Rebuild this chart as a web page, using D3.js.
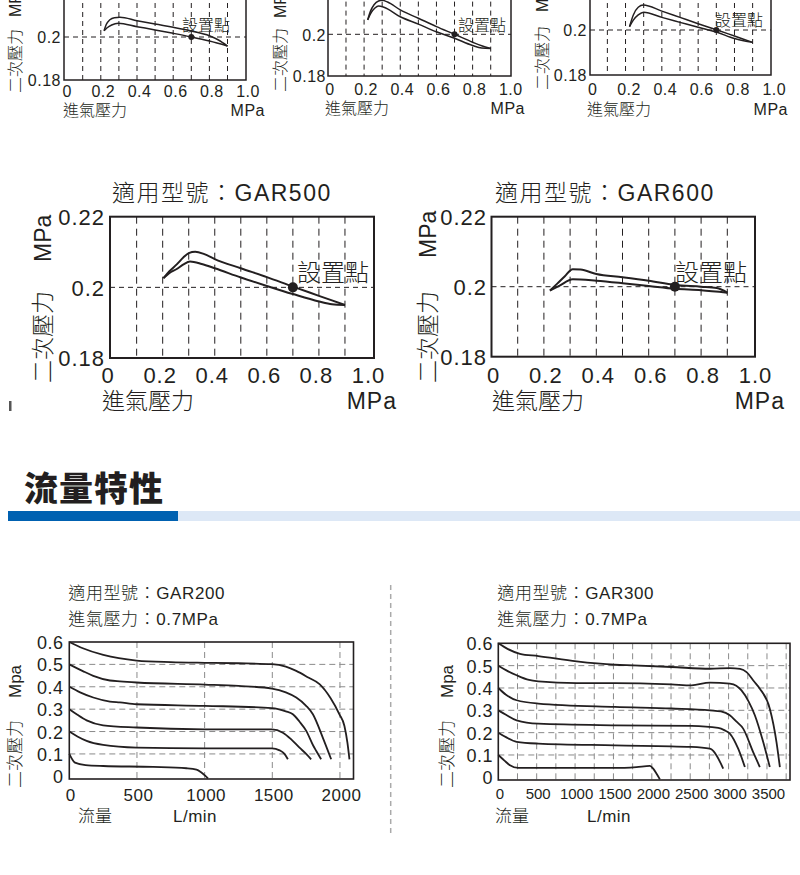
<!DOCTYPE html>
<html><head><meta charset="utf-8">
<script src="https://cdn.jsdelivr.net/npm/d3@7"></script>
<style>
html,body{margin:0;padding:0;background:#fff;}
svg{display:block;}
text{fill:#231f20;font-family:"Liberation Sans","Noto Sans CJK TC",sans-serif;font-weight:300;}
</style></head><body>
<svg id="c" width="800" height="875"></svg>
<script>
// ---------- data ----------
const pressureTicks = [0, 0.2, 0.4, 0.6, 0.8, 1.0];
const pressureTickLabels = ["0", "0.2", "0.4", "0.6", "0.8", "1.0"];
const pressureGrid = [0.1, 0.2, 0.3, 0.4, 0.5, 0.6, 0.7, 0.8, 0.9];
const secondaryTicksTop = [0.18, 0.2];
const secondaryTicksMid = [0.18, 0.2, 0.22];
const secondaryTickLabels = {0.18: "0.18", 0.2: "0.2", 0.22: "0.22"};
const setPoint = [0.7, 0.2];

const chartAUpper = [[0.218,0.2029],[0.23,0.2058],[0.25,0.2080],[0.275,0.2090],[0.306,0.2092],[0.4,0.2076],[0.5,0.2060],[0.6,0.2045],[0.7,0.2028],[0.8,0.2006],[0.85,0.1986],[0.9,0.1958]];
const chartALower = [[0.218,0.2029],[0.235,0.2043],[0.26,0.2056],[0.297,0.2064],[0.4,0.2048],[0.5,0.2033],[0.6,0.2017],[0.7,0.2000],[0.8,0.1981],[0.9,0.1958]];
const chartBUpper = [[0.22,0.2069],[0.235,0.2110],[0.255,0.2142],[0.28,0.2160],[0.3,0.2163],[0.33,0.2155],[0.4,0.2117],[0.5,0.2077],[0.6,0.2037],[0.7,0.2000],[0.8,0.1962],[0.85,0.1945],[0.9,0.1932]];
const chartBLower = [[0.22,0.2069],[0.24,0.2105],[0.26,0.2126],[0.28,0.2136],[0.31,0.2130],[0.4,0.2084],[0.5,0.2049],[0.6,0.2012],[0.7,0.1981],[0.8,0.1946],[0.85,0.1934],[0.9,0.1932]];
const chartCUpper = [[0.222,0.2015],[0.243,0.2067],[0.27,0.2101],[0.298,0.2111],[0.4,0.2084],[0.5,0.2056],[0.6,0.2028],[0.7,0.2001],[0.8,0.1973],[0.9,0.1945]];
const chartCLower = [[0.222,0.2015],[0.243,0.2044],[0.27,0.2067],[0.3,0.2079],[0.4,0.2056],[0.5,0.2034],[0.6,0.2012],[0.7,0.1991],[0.8,0.1962],[0.85,0.1952],[0.9,0.1945]];
const gar500Upper = [[0.203,0.2026],[0.225,0.2045],[0.254,0.2065],[0.28,0.2085],[0.3,0.2097],[0.325,0.2101],[0.36,0.2094],[0.4,0.2080],[0.5,0.2054],[0.6,0.2029],[0.7,0.2002],[0.8,0.1976],[0.9,0.1950]];
const gar500Lower = [[0.203,0.2026],[0.225,0.2040],[0.254,0.2052],[0.28,0.2065],[0.305,0.2073],[0.35,0.2066],[0.4,0.2054],[0.5,0.2028],[0.6,0.2004],[0.7,0.1981],[0.8,0.1960],[0.85,0.1952],[0.9,0.1950]];
const gar600Upper = [[0.223,0.1989],[0.25,0.2008],[0.28,0.2030],[0.31,0.2050],[0.34,0.2049],[0.4,0.2036],[0.5,0.2027],[0.6,0.2017],[0.7,0.2005],[0.8,0.2000],[0.86,0.1996],[0.9,0.1983]];
const gar600Lower = [[0.223,0.1989],[0.26,0.2003],[0.31,0.2021],[0.4,0.2017],[0.5,0.2010],[0.6,0.2002],[0.7,0.1994],[0.8,0.1990],[0.9,0.1983]];

const flowPressureTicks = [0, 0.1, 0.2, 0.3, 0.4, 0.5, 0.6];
const flowPressureLabels = ["0", "0.1", "0.2", "0.3", "0.4", "0.5", "0.6"];
const flowPressureGrid = [0.1, 0.2, 0.3, 0.4, 0.5];
const flowTicks200 = [0, 500, 1000, 1500, 2000];
const flowGrid200 = [500, 1000, 1500, 2000];
const flowTicks300 = [0, 500, 1000, 1500, 2000, 2500, 3000, 3500];
const flowGrid300 = [250, 500, 750, 1000, 1250, 1500, 1750, 2000, 2250, 2500, 2750, 3000, 3250, 3500, 3750];

const gar200Curve06 = [[0,0.6],[100,0.572],[251,0.542],[497,0.517],[750,0.510],[1001,0.507],[1250,0.505],[1497,0.501],[1600,0.490],[1677,0.471],[1770,0.440],[1849,0.412],[1930,0.350],[1996,0.277],[2033,0.225],[2055,0.150],[2070,0.076]];
const gar200Curve05 = [[0,0.5],[100,0.470],[177,0.449],[300,0.428],[374,0.424],[497,0.419],[1001,0.410],[1250,0.404],[1497,0.392],[1600,0.375],[1677,0.352],[1750,0.315],[1800,0.277],[1873,0.173],[1935,0.076]];
const gar200Curve04 = [[0,0.4],[80,0.375],[177,0.352],[300,0.334],[374,0.330],[497,0.322],[1001,0.315],[1497,0.305],[1600,0.290],[1652,0.277],[1700,0.245],[1751,0.203],[1800,0.140],[1825,0.113],[1861,0.076]];
const gar200Curve03 = [[0,0.3],[60,0.275],[128,0.250],[250,0.228],[497,0.218],[1001,0.210],[1497,0.210],[1578,0.195],[1640,0.165],[1701,0.128],[1750,0.100],[1787,0.076]];
const gar200Curve02 = [[0,0.2],[60,0.178],[128,0.158],[250,0.140],[497,0.128],[1001,0.125],[1497,0.125],[1554,0.116],[1590,0.100],[1615,0.076]];
const gar200Curve01 = [[0,0.1],[42,0.061],[120,0.050],[251,0.046],[619,0.042],[866,0.036],[940,0.030],[976,0.017],[1025,-0.009]];

const gar300Curve06 = [[0,0.6],[120,0.575],[282,0.553],[521,0.543],[1020,0.519],[1519,0.504],[1758,0.501],[2257,0.494],[2756,0.486],[3016,0.489],[3150,0.485],[3234,0.471],[3330,0.430],[3407,0.397],[3537,0.307],[3624,0.158],[3668,0.046]];
const gar300Curve05 = [[0,0.5],[100,0.480],[239,0.457],[400,0.436],[521,0.430],[1020,0.422],[1519,0.422],[2257,0.416],[2517,0.412],[2756,0.424],[3016,0.419],[3100,0.410],[3168,0.389],[3260,0.340],[3342,0.278],[3451,0.158],[3537,0.046]];
const gar300Curve04 = [[0,0.4],[100,0.370],[239,0.345],[521,0.330],[1519,0.315],[2257,0.308],[2756,0.300],[2900,0.295],[3016,0.278],[3100,0.250],[3190,0.218],[3320,0.113],[3407,0.046]];
const gar300Curve03 = [[0,0.3],[100,0.280],[239,0.255],[521,0.240],[1519,0.233],[2517,0.230],[2865,0.221],[2950,0.210],[3016,0.196],[3125,0.128],[3212,0.046]];
const gar300Curve02 = [[0,0.2],[100,0.180],[239,0.159],[521,0.151],[1519,0.143],[2517,0.136],[2756,0.128],[2800,0.118],[2843,0.098],[2930,0.039]];
const gar300Curve01 = [[0,0.1],[80,0.075],[152,0.054],[260,0.042],[1020,0.042],[1519,0.042],[1800,0.046],[1975,0.051],[2018,0.039],[2062,0.016],[2105,-0.009]];

// ---------- drawing ----------
const svg = d3.select("#c");
svg.append("rect").attr("width", 800).attr("height", 875).attr("fill", "#fff");
const INK = "#231f20";

function styleAxis(g, fs, ls) {
  g.select(".domain").remove();
  g.selectAll(".tick line").remove();
  g.attr("font-family", null).attr("font-size", null).attr("fill", null);
  g.selectAll("text").attr("font-size", fs).attr("fill", INK).attr("letter-spacing", ls || 0);
}

function rotText(x, y, str, fs, anchor) {
  svg.append("text").attr("transform", `translate(${x},${y}) rotate(-90)`)
    .attr("text-anchor", anchor).attr("dominant-baseline", "central")
    .attr("font-size", fs).text(str);
}

function plainText(x, y, str, fs, anchor, ls) {
  return svg.append("text").attr("x", x).attr("y", y).attr("text-anchor", anchor || "start")
    .attr("dominant-baseline", "central").attr("font-size", fs)
    .attr("letter-spacing", ls || 0).text(str);
}

function drawPressure(L, upper, lower, yTicks) {
  const x = d3.scaleLinear().domain([0, 1]).range([L.x0, L.x1]);
  const y = d3.scaleLinear().domain([0.18, 0.22]).range([L.y18, L.y22]);
  const g = svg.append("g");
  const top = y(0.22), bot = y(0.18);
  g.selectAll(".vg").data(pressureGrid).join("line")
    .attr("x1", d => x(d)).attr("x2", d => x(d)).attr("y1", top).attr("y2", bot)
    .attr("stroke", INK).attr("stroke-width", 1).attr("stroke-dasharray", L.dash);
  g.append("line").attr("x1", L.boxL).attr("x2", L.boxR).attr("y1", y(0.2)).attr("y2", y(0.2))
    .attr("stroke", INK).attr("stroke-width", 1).attr("stroke-dasharray", "5,4");
  g.append("rect").attr("x", L.boxL).attr("y", top).attr("width", L.boxR - L.boxL).attr("height", bot - top)
    .attr("fill", "none").attr("stroke", INK).attr("stroke-width", L.boxW);
  const line = d3.line().x(d => x(d[0])).y(d => y(d[1])).curve(d3.curveMonotoneX);
  [upper, lower].forEach(s => g.append("path").attr("d", line(s)).attr("fill", "none")
    .attr("stroke", INK).attr("stroke-width", L.lineW).attr("stroke-linejoin", "round"));
  g.append("circle").attr("cx", x(setPoint[0])).attr("cy", y(setPoint[1])).attr("r", L.dotR).attr("fill", INK);
  const gx = svg.append("g").attr("transform", `translate(${L.tickDx},${L.tickY})`)
    .call(d3.axisBottom(x).tickValues(pressureTicks).tickFormat((d, i) => pressureTickLabels[i]).tickSize(0));
  styleAxis(gx, L.fs, L.ls);
  gx.selectAll("text").attr("y", 0).attr("dy", "0.36em");
  const gy = svg.append("g").attr("transform", `translate(${L.yLabX},0)`)
    .call(d3.axisLeft(y).tickValues(yTicks).tickFormat(d => secondaryTickLabels[d]).tickSize(0));
  styleAxis(gy, L.fs, L.ls);
  gy.selectAll("text").attr("x", 0).attr("dy", "0.36em");
  rotText(L.ylX, L.ylBottom, "二次壓力", L.lfs, "start");
  rotText(L.ylX, L.mpaBottom, "MPa", L.lfs, "start");
  plainText(L.xlX, L.xlY, "進氣壓力", L.lfs, "start");
  plainText(L.mpaX, L.xlY, "MPa", L.lfs, "end", L.ls);
  plainText(L.spX, L.spY, "設置點", L.spFs, "start");
  if (L.title) plainText(L.titleX, L.titleY, L.title, L.titleFs, "start", 1.5);
}

// top row (cut at top)
drawPressure({x0:64.6, x1:245.6, boxL:64, boxR:246, y18:80, y22:-6, tickY:91, tickDx:2, yLabX:61,
  fs:16, ls:0.5, lfs:16, dash:"5,4", boxW:1.5, lineW:1.5, dotR:3,
  ylX:15, ylBottom:93, mpaBottom:17, xlX:63, xlY:110, mpaX:265, spX:182, spY:25, spFs:16},
  chartAUpper, chartALower, secondaryTicksTop);
drawPressure({x0:327.9, x1:508.8, boxL:328, boxR:511, y18:76, y22:-7.4, tickY:89.5, tickDx:1.5, yLabX:326,
  fs:16, ls:0.5, lfs:16, dash:"5,4", boxW:1.5, lineW:1.5, dotR:3,
  ylX:280, ylBottom:92, mpaBottom:18, xlX:325, xlY:108, mpaX:525, spX:458, spY:25, spFs:16},
  chartBUpper, chartBLower, secondaryTicksTop);
drawPressure({x0:589.2, x1:770.8, boxL:590, boxR:771, y18:75, y22:-15, tickY:89.5, tickDx:3, yLabX:587,
  fs:16, ls:0.5, lfs:16, dash:"5,4", boxW:1.5, lineW:1.5, dotR:3,
  ylX:542, ylBottom:90, mpaBottom:12, xlX:587, xlY:109, mpaX:788, spX:715, spY:20, spFs:16},
  chartCUpper, chartCLower, secondaryTicksTop);

// middle row
drawPressure({x0:110.6, x1:371, boxL:110, boxR:374, y18:358, y22:216.7, tickY:375, tickDx:-3, yLabX:105,
  fs:22, ls:1, lfs:23, dash:"7,5", boxW:2, lineW:2, dotR:5,
  ylX:43, ylBottom:383, mpaBottom:262, xlX:102, xlY:401, mpaX:397, spX:297, spY:272, spFs:24,
  title:"適用型號：GAR500", titleX:112, titleY:193, titleFs:23},
  gar500Upper, gar500Lower, secondaryTicksMid);
drawPressure({x0:491.5, x1:753.5, boxL:491.5, boxR:755, y18:356.7, y22:216.7, tickY:375, tickDx:1.5, yLabX:487,
  fs:22, ls:1, lfs:23, dash:"7,5", boxW:2, lineW:2, dotR:5,
  ylX:428, ylBottom:383, mpaBottom:258, xlX:492, xlY:401, mpaX:785, spX:675, spY:272, spFs:24,
  title:"適用型號：GAR600", titleX:495, titleY:193, titleFs:23},
  gar600Upper, gar600Lower, secondaryTicksMid);

// small stray mark at left edge
svg.append("rect").attr("x", 9).attr("y", 401).attr("width", 2.5).attr("height", 10).attr("fill", "#555");

// section header
svg.append("text").attr("x", 24).attr("y", 486).attr("dominant-baseline", "central")
  .attr("font-size", 34).attr("letter-spacing", 1)
  .style("font-weight", 900)
  .style("font-family", '"Noto Sans CJK TC","Noto Sans CJK SC",sans-serif').text("流量特性");
svg.append("rect").attr("x", 8).attr("y", 511).attr("width", 170).attr("height", 10).attr("fill", "#0061b1");
svg.append("rect").attr("x", 178).attr("y", 511).attr("width", 622).attr("height", 10).attr("fill", "#dde8f6");

// separator
svg.append("line").attr("x1", 390.7).attr("x2", 390.7).attr("y1", 585).attr("y2", 835)
  .attr("stroke", "#aaa").attr("stroke-width", 1.5).attr("stroke-dasharray", "5,4");

function drawFlow(L, curves, xTicks, xGrid) {
  const x = d3.scaleLinear().domain([0, L.xMax]).range([L.boxL, L.boxR]);
  const y = d3.scaleLinear().domain([-0.012, 0.6]).range([L.boxB, L.boxT]);
  const g = svg.append("g");
  g.selectAll(".hg").data(flowPressureGrid).join("line")
    .attr("x1", L.boxL).attr("x2", L.boxR).attr("y1", d => y(d)).attr("y2", d => y(d))
    .attr("stroke", "#8a8a8a").attr("stroke-width", 1).attr("stroke-dasharray", "6,4");
  g.selectAll(".vg").data(xGrid).join("line")
    .attr("x1", d => x(d)).attr("x2", d => x(d)).attr("y1", L.boxT).attr("y2", L.boxB)
    .attr("stroke", "#8a8a8a").attr("stroke-width", 1).attr("stroke-dasharray", "6,4");
  g.append("rect").attr("x", L.boxL).attr("y", L.boxT).attr("width", L.boxR - L.boxL).attr("height", L.boxB - L.boxT)
    .attr("fill", "none").attr("stroke", INK).attr("stroke-width", 1.6);
  const line = d3.line().x(d => x(d[0])).y(d => y(d[1])).curve(d3.curveMonotoneX);
  curves.forEach(c => g.append("path").attr("d", line(c)).attr("fill", "none")
    .attr("stroke", INK).attr("stroke-width", 1.8).attr("stroke-linejoin", "round"));
  const gx = svg.append("g").attr("transform", `translate(${L.tickDx},${L.tickY})`)
    .call(d3.axisBottom(x).tickValues(xTicks).tickFormat(d3.format("d")).tickSize(0));
  styleAxis(gx, L.xfs, L.xls);
  gx.selectAll("text").attr("y", 0).attr("dy", "0.36em");
  const gy = svg.append("g").attr("transform", `translate(${L.yLabX},0)`)
    .call(d3.axisLeft(y).tickValues(flowPressureTicks).tickFormat((d, i) => flowPressureLabels[i]).tickSize(0));
  styleAxis(gy, 18, 0.5);
  gy.selectAll("text").attr("x", 0).attr("dy", "0.36em");
  plainText(L.boxL - 1, 593, L.title, 17, "start", 0.6);
  plainText(L.boxL - 1, 619, "進氣壓力：0.7MPa", 17, "start", 0.6);
  plainText(L.flX, 816, "流量", 17, "start");
  plainText(L.unitX, 816, "L/min", 17, "start", 0.5);
  rotText(L.ylX, 788, "二次壓力", 17, "start");
  rotText(L.ylX, 698, "Mpa", 17, "start");
}

drawFlow({xMax:2100, boxL:69.3, boxR:353.5, boxT:642, boxB:779, tickY:795, tickDx:1, yLabX:63.5,
  xfs:17, xls:0.5, title:"適用型號：GAR200", flX:78, unitX:173, ylX:15},
  [gar200Curve06, gar200Curve05, gar200Curve04, gar200Curve03, gar200Curve02, gar200Curve01], flowTicks200, flowGrid200);
drawFlow({xMax:3800, boxL:498.3, boxR:790, boxT:643.3, boxB:780, tickY:794, tickDx:1, yLabX:493,
  xfs:15, xls:0, title:"適用型號：GAR300", flX:495, unitX:587, ylX:447},
  [gar300Curve06, gar300Curve05, gar300Curve04, gar300Curve03, gar300Curve02, gar300Curve01], flowTicks300, flowGrid300);
</script>
</body></html>
